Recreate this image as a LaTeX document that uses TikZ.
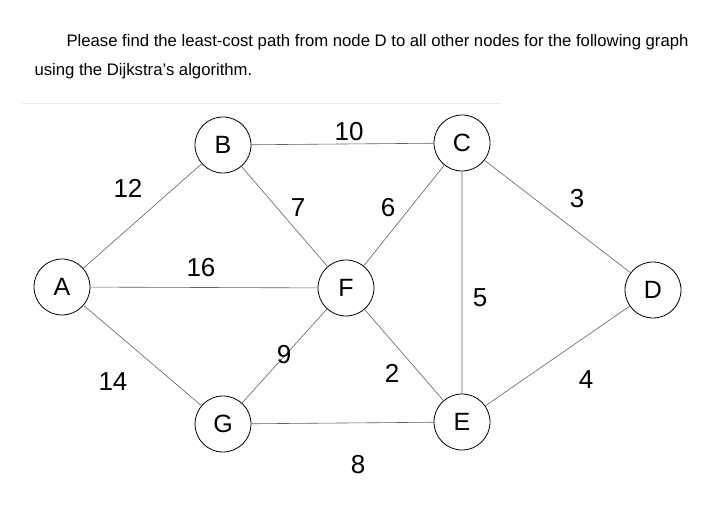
\documentclass[tikz,border=0pt]{standalone}
\usepackage{fontspec}
\setmainfont{Liberation Sans}
\begin{document}
\begin{tikzpicture}[x=1pt,y=-1pt,
  nd/.style={circle,draw,line width=0.8pt,minimum size=56pt,inner sep=0pt,fill=white,font=\fontsize{25}{25}\selectfont},
  ed/.style={draw=gray!75!black,line width=0.6pt},
  lb/.style={font=\fontsize{26}{26}\selectfont}]
\useasboundingbox (0,0) rectangle (720,510);
\node[anchor=base west,font=\fontsize{16.7}{17}\selectfont] (t1) at (63,47) {Please find the least-cost path from node D to all other nodes for the following graph};
\node[anchor=base west,font=\fontsize{16.7}{17}\selectfont] (t2) at (31,76) {using the Dijkstra's algorithm.};
\draw[gray!15,line width=0.8pt] (22,103) -- (500,103);
\node[nd] (A) at (62,287) {A};
\node[nd] (B) at (223,145) {B};
\node[nd] (C) at (462,143) {C};
\node[nd] (D) at (653,290) {D};
\node[nd] (F) at (346,288) {F};
\node[nd] (G) at (223,424) {G};
\node[nd] (E) at (462,422) {E};
\path[ed] (A)--(B) (A)--(F) (A)--(G) (B)--(C) (B)--(F) (C)--(F) (C)--(E) (C)--(D) (D)--(E) (F)--(G) (F)--(E) (G)--(E);
\node[lb] (l10) at (349,132) {10};
\node[lb] (l12) at (128,188) {12};
\node[lb] (l7) at (298,208) {7};
\node[lb] (l6) at (388,208) {6};
\node[lb] (l3) at (577,199) {3};
\node[lb] (l16) at (201,268) {16};
\node[lb] (l5) at (480,298) {5};
\node[lb] (l9) at (284,355) {9};
\node[lb] (l14) at (113,382) {14};
\node[lb] (l2) at (392,373) {2};
\node[lb] (l4) at (586,380) {4};
\node[lb] (l8) at (358,465) {8};
\end{tikzpicture}
\end{document}
